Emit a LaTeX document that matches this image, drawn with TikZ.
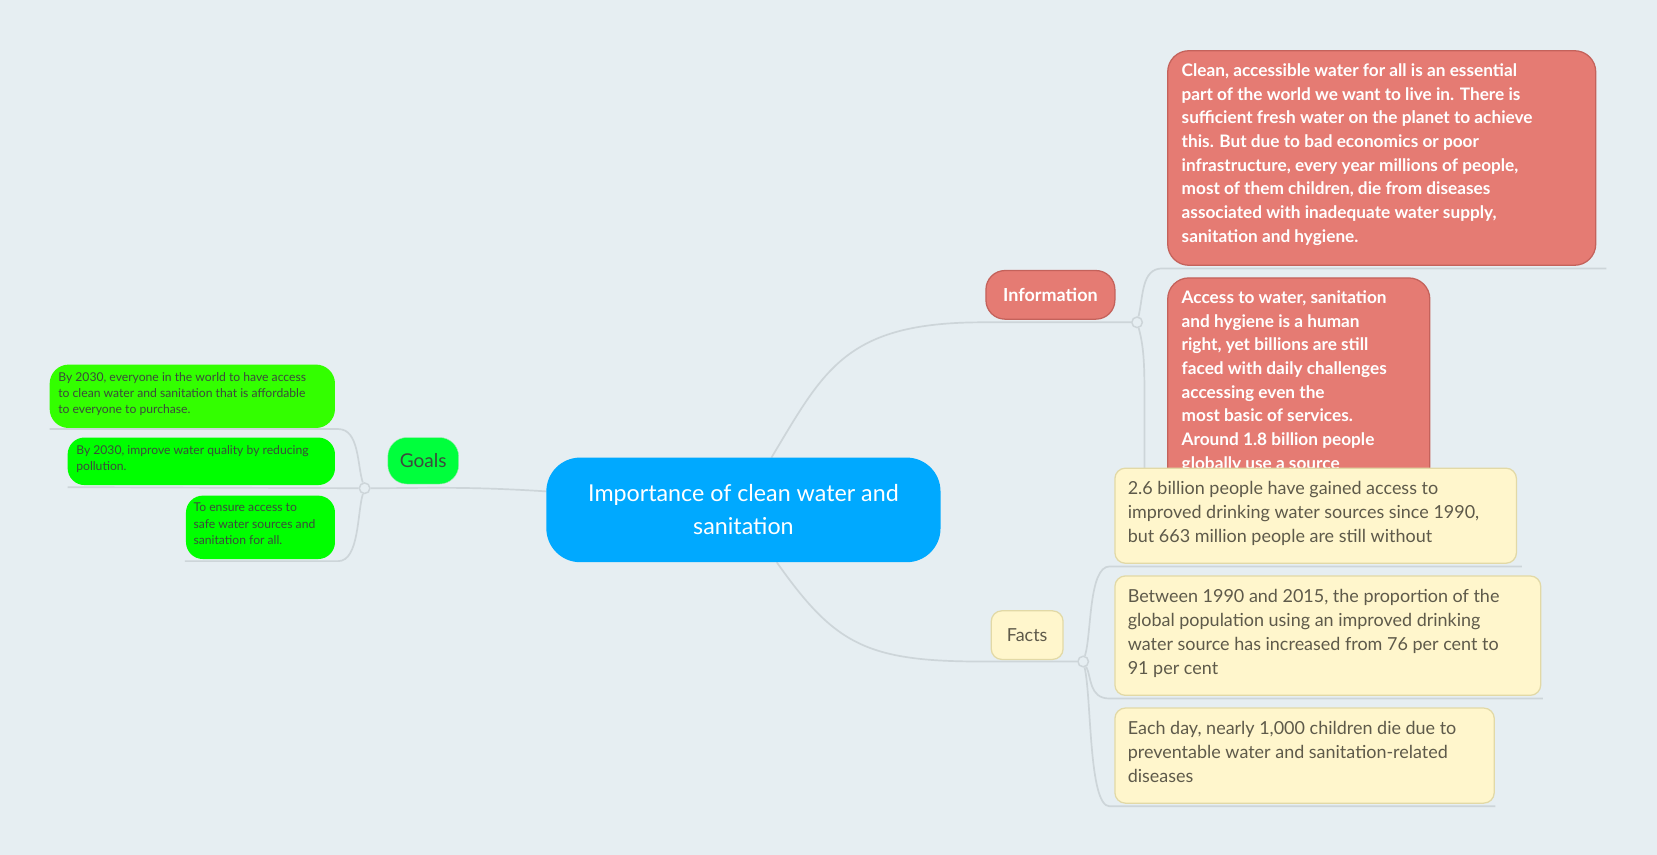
\documentclass[tikz,border=0pt]{standalone}
\usepackage{fontspec}
\setmainfont{Lato}
\begin{document}
\begin{tikzpicture}[x=1pt,y=-1pt,
  line/.style={draw=linec,line width=1.6pt},
  box/.style={rounded corners=#1,anchor=north west,inner sep=0pt},
  txt/.style={anchor=north west,align=left,inner sep=0pt},
  jct/.style={circle,draw=linec,fill=bg,line width=1.4pt,minimum size=10pt,inner sep=0pt}]
\definecolor{bg}{HTML}{E6EEF2}
\definecolor{linec}{HTML}{CDD5D9}
\definecolor{blue}{HTML}{00A9FF}
\definecolor{red}{HTML}{E57B73}
\definecolor{redb}{HTML}{C4625B}
\definecolor{yel}{HTML}{FFF6CC}
\definecolor{yelb}{HTML}{E2D9A6}
\definecolor{gA}{HTML}{33FF00}
\definecolor{gB}{HTML}{00FF00}
\definecolor{gG}{HTML}{00FF3C}
\definecolor{gt}{HTML}{3C4A3C}
\definecolor{ft}{HTML}{5E5A4A}
\fill[bg] (0,0) rectangle (1568,809);
\useasboundingbox (0,0) rectangle (1568,809);

% junctions coordinates
\coordinate (cl) at (517,465);
\coordinate (ct) at (730,433);
\coordinate (cb) at (735,532);

% goals lines
\node[jct] (gj) at (345,462) {};
\draw[line] (cl) .. controls (440,460) and (400,462) .. (gj.east);
\draw[line] (gj) .. controls (338,440) and (340,406) .. (320,406) -- (47,406);
\draw[line] (gj.west) -- (64,461);
\draw[line] (gj) .. controls (338,485) and (340,531) .. (320,531) -- (175,531);

% information lines
\node[jct] (ij) at (1076,305) {};
\draw[line] (ct) .. controls (780,350) and (800,305) .. (930,305) -- (ij.west);
\draw[line] (ij) .. controls (1082,280) and (1080,254) .. (1100,254) -- (1520,254);
\draw[line] (ij) .. controls (1083,330) and (1083,350) .. (1083,380) -- (1083,445);

% facts lines
\node[jct] (fj) at (1025,626) {};
\draw[line] (cb) .. controls (790,610) and (820,626) .. (930,626) -- (fj.west);
\draw[line] (fj) .. controls (1033,600) and (1030,536) .. (1050,536) -- (1440,536);
\draw[line] (fj) .. controls (1033,640) and (1030,661) .. (1050,661) -- (1460,661);
\draw[line] (fj) .. controls (1033,660) and (1030,763) .. (1050,763) -- (1415,763);

% center
\node[fill=blue,rounded corners=32pt,minimum width=373pt,minimum height=99pt,
  text=white,font=\fontsize{22}{31}\selectfont,align=center] (c) at (703.5,482.5)
  {Importance of clean water and\\sanitation};

% goals
\node[fill=gG,draw=gG!80!black!40,rounded corners=18pt,minimum width=67pt,minimum height=44pt,
  text=gt,font=\fontsize{18}{22}\selectfont] (goals) at (400.5,436) {Goals};
\fill[gA,rounded corners=18pt] (47,345) rectangle (317,405);
\node[txt,text=gt,font=\fontsize{11.5}{15.5}\selectfont] (g1) at (55,352)
  {By 2030, everyone in the world to have access\\to clean water and sanitation that is affordable\\to everyone to purchase.};
\fill[gB,rounded corners=16pt] (64,414) rectangle (317,459);
\node[txt,text=gt,font=\fontsize{11.5}{15.5}\selectfont] (g2) at (72,421)
  {By 2030, improve water quality by reducing\\pollution.};
\fill[gB,rounded corners=16pt] (176,469) rectangle (317,529);
\node[txt,text=gt,font=\fontsize{11.5}{15.5}\selectfont] (g3) at (183,476)
  {To ensure access to\\safe water sources and\\sanitation for all.};

% information
\node[fill=red,draw=redb,line width=1.2pt,rounded corners=18pt,minimum width=122pt,minimum height=46pt,
  text=white,font=\bfseries\fontsize{17}{20}\selectfont] (info) at (994,279) {Information};
\filldraw[fill=red,draw=redb,line width=1.2pt,rounded corners=20pt] (1105,48) rectangle (1510,251);
\node[txt,text=white,font=\bfseries\fontsize{16.3}{22.4}\selectfont] (i1) at (1118,60)
  {Clean, accessible water for all is an essential\\part of the world we want to live in. There is\\sufficient fresh water on the planet to achieve\\this. But due to bad economics or poor\\infrastructure, every year millions of people,\\most of them children, die from diseases\\associated with inadequate water supply,\\sanitation and hygiene.};
\begin{scope}
\clip (1090,255) rectangle (1370,446);
\filldraw[fill=red,draw=redb,line width=1.2pt,rounded corners=20pt] (1105,263) rectangle (1353,520);
\node[txt,text=white,font=\bfseries\fontsize{16.3}{22.4}\selectfont] (i2) at (1118,275)
  {Access to water, sanitation\\and hygiene is a human\\right, yet billions are still\\faced with daily challenges\\accessing even the\\most basic of services.\\Around 1.8 billion people\\globally use a source};
\end{scope}

% facts
\node[fill=yel,draw=yelb,line width=1.2pt,rounded corners=10pt,minimum width=68pt,minimum height=46pt,
  text=ft,font=\fontsize{17}{20}\selectfont] (facts) at (972,601) {Facts};
\filldraw[fill=yel,draw=yelb,line width=1.2pt,rounded corners=10pt] (1055,443) rectangle (1435,533);
\node[txt,text=ft,font=\fontsize{17}{23}\selectfont] (f1) at (1067,455)
  {2.6 billion people have gained access to\\improved drinking water sources since 1990,\\but 663 million people are still without};
\filldraw[fill=yel,draw=yelb,line width=1.2pt,rounded corners=10pt] (1055,545) rectangle (1458,658);
\node[txt,text=ft,font=\fontsize{17}{23}\selectfont] (f2) at (1067,557)
  {Between 1990 and 2015, the proportion of the\\global population using an improved drinking\\water source has increased from 76 per cent to\\91 per cent};
\filldraw[fill=yel,draw=yelb,line width=1.2pt,rounded corners=10pt] (1055,670) rectangle (1414,760);
\node[txt,text=ft,font=\fontsize{17}{23}\selectfont] (f3) at (1067,682)
  {Each day, nearly 1,000 children die due to\\preventable water and sanitation-related\\diseases};
\end{tikzpicture}
\end{document}
